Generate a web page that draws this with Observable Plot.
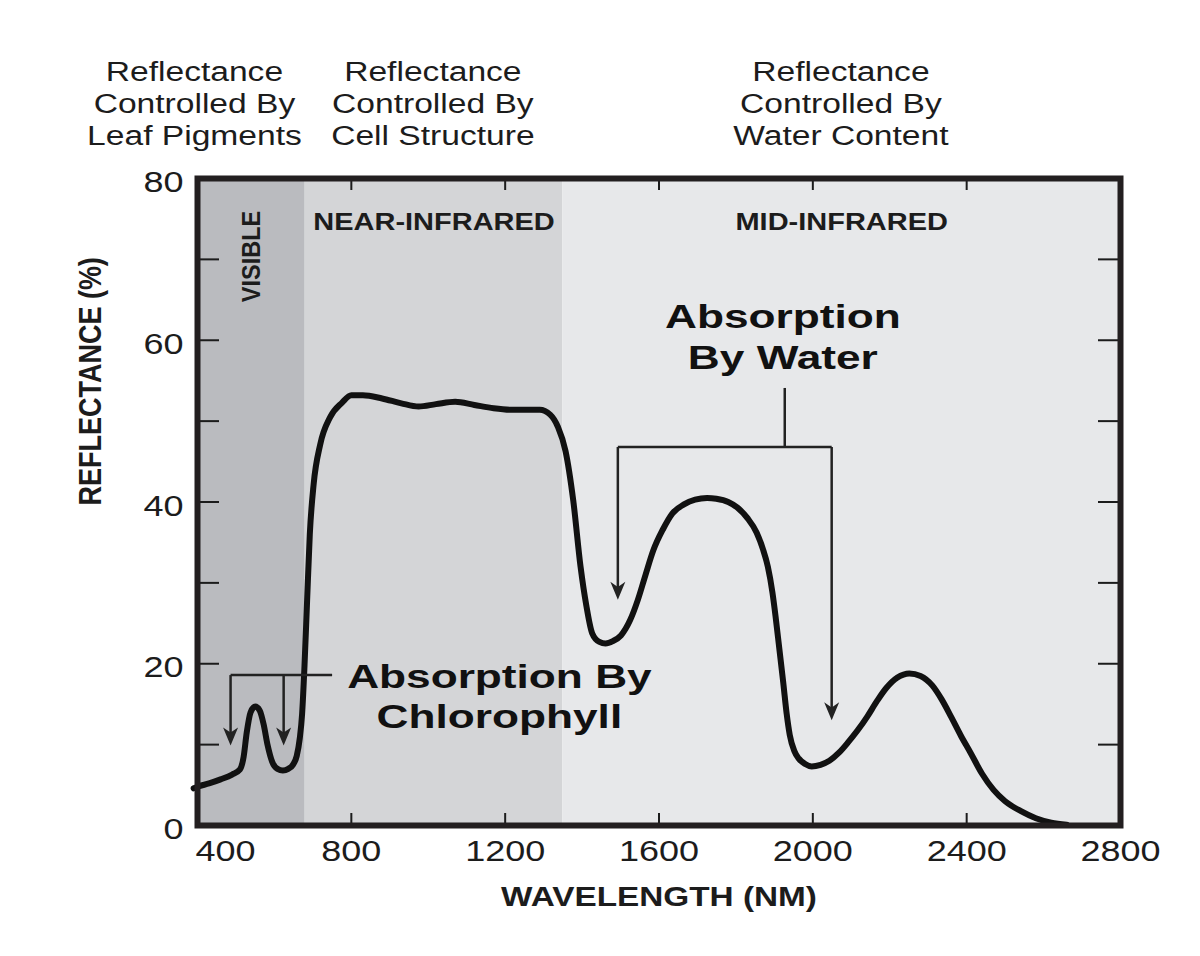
<!DOCTYPE html>
<html>
<head>
<meta charset="utf-8">
<script src="https://cdn.jsdelivr.net/npm/d3@7"></script>
<script src="https://cdn.jsdelivr.net/npm/@observablehq/plot@0.6"></script>
<style>
  html, body { margin: 0; padding: 0; background: #ffffff; }
  #chart { width: 1200px; height: 956px; }
</style>
</head>
<body>
<div id="chart"></div>
<script>
// ---------- data ----------
const wavelengths = [390, 400, 430, 460, 490, 510, 520, 528, 538, 550, 562, 572, 582, 594, 608, 622, 636, 648, 658, 666, 672, 678, 685, 692, 702, 719, 745, 776, 800, 830, 880, 930, 975, 1020, 1070, 1120, 1170, 1220, 1290, 1317, 1337, 1357, 1377, 1396, 1411, 1426, 1445, 1461, 1480, 1501, 1525, 1545, 1565, 1585, 1610, 1635, 1665, 1694, 1725, 1749, 1780, 1804, 1830, 1854, 1870, 1883, 1895, 1903, 1913, 1923, 1932, 1940, 1952, 1963, 1980, 1997, 2020, 2043, 2068, 2092, 2117, 2142, 2167, 2191, 2220, 2251, 2280, 2311, 2335, 2360, 2385, 2410, 2440, 2470, 2500, 2540, 2580, 2620, 2660];
const reflectance = [4.6, 4.8, 5.2, 5.7, 6.3, 6.9, 8.5, 11.5, 14.0, 14.7, 14.2, 12.5, 10.0, 7.9, 7.0, 6.8, 7.0, 7.5, 8.6, 10.8, 13.8, 19.5, 27.8, 36.0, 42.2, 47.1, 50.5, 52.3, 53.2, 53.2, 52.8, 52.2, 51.8, 52.1, 52.4, 52.0, 51.6, 51.4, 51.4, 50.8, 49.3, 46.3, 40.2, 32.0, 27.2, 23.8, 22.7, 22.5, 22.8, 23.5, 25.4, 27.9, 31.0, 34.0, 36.6, 38.6, 39.7, 40.3, 40.5, 40.4, 40.0, 39.3, 38.0, 36.2, 34.2, 32.0, 28.8, 25.9, 21.8, 17.7, 13.8, 11.2, 9.2, 8.3, 7.6, 7.3, 7.5, 8.0, 9.0, 10.3, 11.8, 13.5, 15.4, 17.0, 18.3, 18.8, 18.5, 17.3, 15.6, 13.4, 11.1, 9.0, 6.4, 4.4, 3.0, 1.8, 0.9, 0.35, 0.1];

const bandNames = ["VISIBLE", "NEAR-INFRARED", "MID-INFRARED"];
const bandStart = [400, 680, 1350];
const bandEnd = [680, 1350, 2800];

const headerLabels = ["Reflectance\nControlled By\nLeaf Pigments", "Reflectance\nControlled By\nCell Structure", "Reflectance\nControlled By\nWater Content"];
const headerX = [392, 1012, 2073];

const xTickValues = [800, 1200, 1600, 2000, 2400];
const xTickLabels = [400, 800, 1200, 1600, 2000, 2400, 2800];
const yTickValues = [10, 20, 30, 40, 50, 60, 70];
const yTickLabels = [0, 20, 40, 60, 80];

// annotation leaders: [x1, y1, x2, y2] in data units (nm, %)
const chlorophyllLeaders = [[750, 18.6, 486, 18.6], [486, 18.6, 486, 10.5], [624, 18.6, 624, 10.5]];
const waterLeaders = [[1927, 54.1, 1927, 46.8], [1493, 46.8, 2049, 46.8], [1493, 46.8, 1493, 28.5], [2049, 46.8, 2049, 13.6]];
const arrowTips = [[486, 9.9], [624, 9.9], [1493, 27.9], [2049, 13.0]];

const waterLabel = "Absorption\nBy Water";
const waterLabelAt = [1922, 56.4];
const chlorophyllLabel = "Absorption By\nChlorophyll";
const chlorophyllLabelAt = [1185, 12.0];

// ---------- build ----------
const spectrum = wavelengths.map((w, i) => ({w, r: reflectance[i]}));
const bands = bandNames.map((name, i) => ({name, x1: bandStart[i], x2: bandEnd[i], mid: (bandStart[i] + bandEnd[i]) / 2}));
const headers = headerLabels.map((t, i) => ({t, x: headerX[i]}));
const leaders = [...chlorophyllLeaders, ...waterLeaders].map(([x1, y1, x2, y2]) => ({x1, y1, x2, y2}));
const tips = arrowTips.map(([x, y]) => ({x, y}));

const W = 1200, H = 956;
const mTop = 178, mBottom = 131, mLeft = 197, mRight = 80;
const plotH = H - mTop - mBottom, plotW = W - mLeft - mRight;

const ink = "#1c1c1c";
const font = "'Liberation Sans', Arial, Helvetica, sans-serif";

const arrowHead = {
  draw(context, size) {
    const r = Math.sqrt(size / Math.PI);
    const w = r, h = 2.4 * r;
    context.moveTo(0, 0);
    context.lineTo(-w, -h);
    context.lineTo(0, -0.72 * h);
    context.lineTo(w, -h);
    context.closePath();
  }
};

const chart = Plot.plot({
  width: W,
  height: H,
  marginTop: mTop,
  marginBottom: mBottom,
  marginLeft: mLeft,
  marginRight: mRight,
  style: {fontFamily: font, background: "#ffffff", overflow: "visible", color: ink},
  x: {domain: [400, 2800], axis: null},
  y: {domain: [0, 80], axis: null},
  color: {domain: bandNames, range: ["#babbbf", "#d4d5d7", "#e7e8ea"]},
  marks: [
    Plot.rect(bands, {x1: "x1", x2: "x2", fill: "name"}),
    // inward ticks
    Plot.ruleX(xTickValues, {insetTop: plotH - 12, stroke: ink, strokeWidth: 2}),
    Plot.ruleX(xTickValues, {insetBottom: plotH - 12, stroke: ink, strokeWidth: 2}),
    Plot.ruleY(yTickValues, {insetRight: plotW - 22, stroke: ink, strokeWidth: 2}),
    Plot.ruleY(yTickValues, {insetLeft: plotW - 22, stroke: ink, strokeWidth: 2}),
    // band labels
    Plot.text(bands.filter(d => d.name !== "VISIBLE"), {x: "mid", text: "name", frameAnchor: "top", dy: 51, lineAnchor: "bottom", fontSize: 23, fontWeight: "bold", fill: ink}),
    Plot.text(bands.filter(d => d.name === "VISIBLE"), {x: "mid", text: "name", frameAnchor: "top", dy: 78, rotate: -90, textAnchor: "middle", lineAnchor: "middle", fontSize: 23.5, fontWeight: "bold", fill: ink}),
    // spectrum
    Plot.line(spectrum, {x: "w", y: "r", curve: "monotone-x", stroke: "#111", strokeWidth: 6, strokeLinejoin: "round", strokeLinecap: "round"}),
    // leaders & arrowheads
    Plot.link(leaders, {x1: "x1", y1: "y1", x2: "x2", y2: "y2", stroke: "#222", strokeWidth: 2.5}),
    Plot.dot(tips, {x: "x", y: "y", symbol: arrowHead, r: 7.5, fill: "#222", stroke: "none"}),
    // annotation texts
    Plot.text([waterLabel], {x: waterLabelAt[0], y: waterLabelAt[1], text: d => d, lineAnchor: "bottom", lineHeight: 1.24, fontSize: 33, fontWeight: "bold", fill: "#111"}),
    Plot.text([chlorophyllLabel], {x: chlorophyllLabelAt[0], y: chlorophyllLabelAt[1], text: d => d, lineAnchor: "bottom", lineHeight: 1.24, fontSize: 33, fontWeight: "bold", fill: "#111"}),
    // frame
    Plot.frame({stroke: "#231f20", strokeWidth: 6}),
    // tick labels
    Plot.text(yTickLabels, {y: d => d, text: d => String(d), frameAnchor: "left", textAnchor: "end", dx: -14, dy: 4, fontSize: 30, fill: ink}),
    Plot.text(xTickLabels.slice(1), {x: d => d, text: d => String(d), frameAnchor: "bottom", lineAnchor: "bottom", dy: 35, fontSize: 30, fill: ink}),
    Plot.text(xTickLabels.slice(0, 1), {x: d => d, text: d => String(d), frameAnchor: "bottom", lineAnchor: "bottom", textAnchor: "start", dx: -2, dy: 35, fontSize: 30, fill: ink}),
    // axis titles
    Plot.text(["WAVELENGTH (NM)"], {frameAnchor: "bottom", lineAnchor: "bottom", dy: 80, text: d => d, fontSize: 28, fontWeight: "bold", fill: ink}),
    Plot.text(["REFLECTANCE (%)"], {frameAnchor: "left", rotate: -90, lineAnchor: "middle", dx: -107, dy: 3.5, text: d => d, fontSize: 27, fontWeight: "bold", fill: ink}),
    // header texts
    Plot.text(headers, {x: "x", text: "t", frameAnchor: "top", lineAnchor: "bottom", lineHeight: 1.143, dy: -34, fontSize: 28, fill: ink})
  ]
});

// horizontal stretch of glyphs (the source artwork is set in a wide face)
function stretchFor(s) {
  if (s.startsWith("Reflectance")) return 1.2;
  if (s === "NEAR-INFRARED" || s === "MID-INFRARED") return 1.26;
  if (s === "VISIBLE") return 1.1;
  if (s.startsWith("Absorption")) return 1.34;
  if (/^\d+$/.test(s)) return 1.2;
  if (s.startsWith("WAVELENGTH")) return 1.19;
  if (s.startsWith("REFLECTANCE")) return 1.18;
  return 1;
}
d3.select(chart).selectAll("text").each(function () {
  const sx = stretchFor(this.textContent.trim());
  if (sx === 1) return;
  const t = this.getAttribute("transform");
  if (t && /translate\(/.test(t)) {
    const m = t.match(/^\s*(translate\([^)]*\))(.*)$/);
    if (m) this.setAttribute("transform", `${m[1]} scale(${sx},1)${m[2]}`);
    else this.setAttribute("transform", `${t} scale(${sx},1)`);
  } else {
    const x = +this.getAttribute("x") || 0, y = +this.getAttribute("y") || 0;
    this.removeAttribute("x");
    this.removeAttribute("y");
    this.setAttribute("transform", `translate(${x},${y}) scale(${sx},1)`);
  }
});

document.getElementById("chart").appendChild(chart);
</script>
</body>
</html>
